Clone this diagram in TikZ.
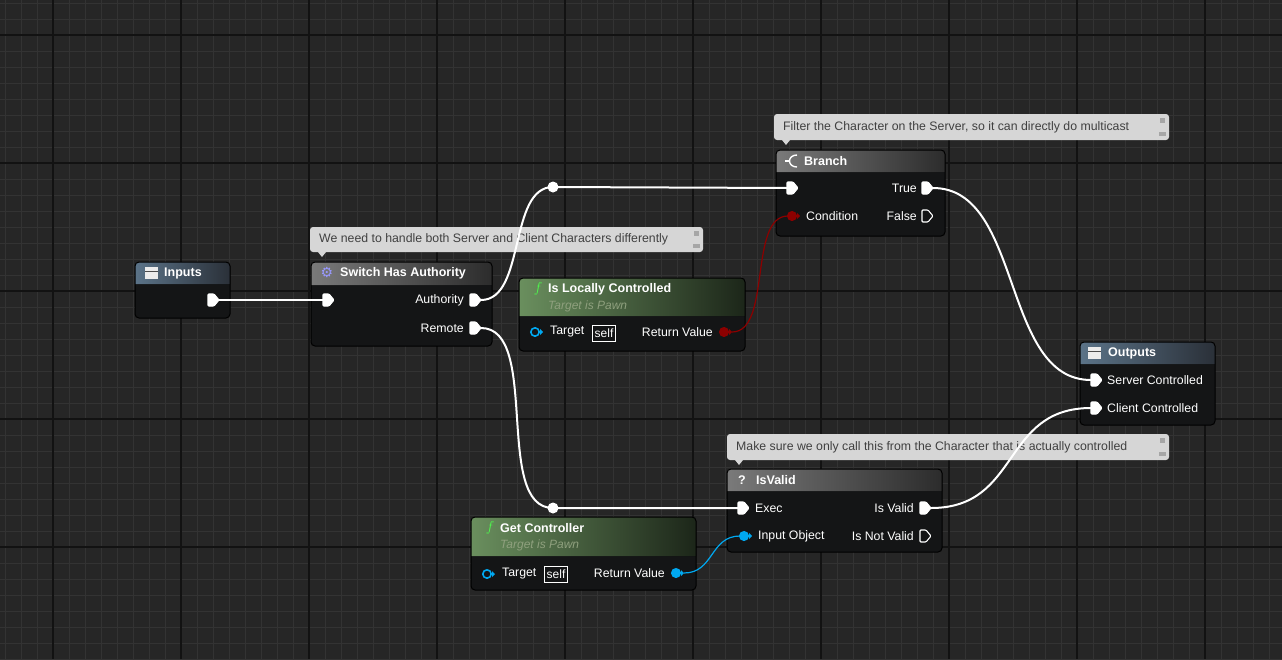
\documentclass[tikz,border=0pt]{standalone}
\usepackage{fontspec}
\setmainfont{Liberation Sans}
\newfontfamily\symfont{DejaVu Sans}
\usetikzlibrary{calc}

\definecolor{bggrid}{HTML}{262626}
\definecolor{minorln}{HTML}{333333}
\definecolor{majorln}{HTML}{121212}
\definecolor{bodycol}{HTML}{141516}
\definecolor{execred}{HTML}{8C0000}
\definecolor{objblue}{HTML}{00A8F0}
\definecolor{notecol}{HTML}{D6D6D6}
\definecolor{ioleft}{HTML}{5B7388}
\definecolor{ioright}{HTML}{2A3038}
\definecolor{flowleft}{HTML}{7A7A7A}
\definecolor{flowright}{HTML}{2C2C2C}
\definecolor{funcleft}{HTML}{6A8F5E}
\definecolor{funcright}{HTML}{1C2619}
\definecolor{subcol}{HTML}{8FA07E}

% pins: exec (filled / hollow) and data
\newcommand\execpin[4][white]{%
  \coordinate (#2) at (#3,#4);
  \draw[white,fill=#1,line width=1.1pt,rounded corners=1pt]
    (#3-5,#4-6) -- (#3+1,#4-6) -- (#3+6,#4) -- (#3+1,#4+6) -- (#3-5,#4+6) -- cycle;}
\newcommand\datapin[5]{%
  \coordinate (#2) at (#3,#4);
  \draw[#1,fill=#5,line width=1.6pt] (#3,#4) circle (4.2);
  \fill[#1] (#3+5,#4-3) -- (#3+8,#4) -- (#3+5,#4+3) -- cycle;}
% node body with header
\newcommand\bpbox[8]{%
  \fill[bodycol,rounded corners=4pt] (#2,#3) rectangle (#4,#5);
  \fill[left color=#7,right color=#8,rounded corners=4pt]
    (#2,#6) [rounded corners=4pt]-- (#2,#3) -- (#4,#3) [sharp corners]-- (#4,#6) -- cycle;
  \draw[black,rounded corners=4pt,line width=1pt] (#2,#3) rectangle (#4,#5);
  \coordinate (#1) at (#2,#3);}
% comment bubble
\newcommand\bpnote[6]{%
  \fill[notecol,rounded corners=3pt] (#2,#3) rectangle (#4,#5);
  \fill[notecol] (#2+8,#5) -- (#2+12,#5+5) -- (#2+16,#5) -- cycle;
  \fill[gray!70] (#4-9,#3+4) rectangle (#4-4,#3+9);
  \fill[gray!70] (#4-10,#5-8) rectangle (#4-3,#5-4);
  \node[anchor=west,text=black!75,font=\fontsize{12.3}{13}\selectfont,inner sep=0pt]
    (#1) at (#2+9,{(#3+#5)/2}) {#6};}

\tikzset{
  title/.style={anchor=west,text=white,font=\bfseries\fontsize{12.5}{14}\selectfont,inner sep=0pt},
  sub/.style={anchor=west,text=subcol,font=\itshape\fontsize{12}{13}\selectfont,inner sep=0pt},
  pinlabel/.style={text=white,font=\fontsize{12.3}{13}\selectfont,inner sep=0pt},
  selfbox/.style={draw=white!80,text=white,font=\fontsize{12}{13}\selectfont,inner sep=2pt,minimum height=16pt},
  wire/.style={white,line width=2pt},
}

\begin{document}
\begin{tikzpicture}[x=1pt,y=-1pt]
\useasboundingbox (0,0) rectangle (1282,659);
\fill[bggrid] (0,0) rectangle (1282,659);
\foreach \x in {5,21,...,1282} \draw[minorln,line width=1pt] (\x,0) -- (\x,659);
\foreach \y in {3,19,...,659} \draw[minorln,line width=1pt] (0,\y) -- (1282,\y);
\foreach \x in {53,181,...,1282} \draw[majorln,line width=1.2pt] (\x,0) -- (\x,659);
\foreach \y in {35,163,...,659} \draw[majorln,line width=1.2pt] (0,\y) -- (1282,\y);

% comments
\bpnote{noteA}{310}{227}{703}{252}{We need to handle both Server and Client Characters differently}
\bpnote{noteB}{774}{114}{1169}{140}{Filter the Character on the Server, so it can directly do multicast}
\bpnote{noteC}{727}{434}{1169}{460}{Make sure we only call this from the Character that is actually controlled}

% nodes
\bpbox{inputs}{135}{262}{230}{318}{284}{ioleft}{ioright}
\fill[white!85!gray] (145,267) rectangle (158,279);
\draw[gray!60!black] (145,271) -- (158,271);
\node[title] (inputsT) at (164,273) {Inputs};
\execpin{inExec}{213}{300}

\bpbox{switch}{311}{262}{492}{346}{285}{flowleft}{flowright}
\node[text=blue!40!white,font=\symfont\fontsize{14}{14}\selectfont,inner sep=0pt] at (327,273) {⚙};
\node[title] (switchT) at (340,273) {Switch Has Authority};
\execpin{swIn}{328}{300}
\execpin{swAuth}{475}{300}
\execpin{swRemote}{475}{328}
\node[pinlabel,anchor=east] at (464,300) {Authority};
\node[pinlabel,anchor=east] at (464,328) {Remote};

\bpbox{locally}{519}{278}{745}{351}{316}{funcleft}{funcright}
\node[text=green!70!white,font=\itshape\fontsize{15}{15}\selectfont,inner sep=0pt] at (538,289) {$f$};
\node[title] (locallyT) at (548,289) {Is Locally Controlled};
\node[sub] at (548,306) {Target is Pawn};
\datapin{objblue}{lcTarget}{535}{332}{bodycol}
\node[pinlabel,anchor=west] at (550,332) {Target};
\node[selfbox] at (604,333) {self};
\datapin{execred}{lcRet}{724}{332}{execred}
\node[pinlabel,anchor=east] at (713,332) {Return Value};

\bpbox{branch}{776}{150}{945}{236}{172}{flowleft}{flowright}
\draw[white,line width=1.4pt] (797,155) .. controls (787,155) and (787,167) .. (797,167);
\draw[white,line width=1.4pt] (790,161) -- (785,161);
\node[title] (branchT) at (804,161) {Branch};
\execpin{brIn}{792}{188}
\execpin{brTrue}{927}{188}
\execpin[bodycol]{brFalse}{927}{216}
\datapin{execred}{brCond}{792}{216}{execred}
\node[pinlabel,anchor=west] at (806,216) {Condition};
\node[pinlabel,anchor=east] at (917,188) {True};
\node[pinlabel,anchor=east] at (917,216) {False};

\bpbox{outputs}{1080}{342}{1215}{425}{364}{ioleft}{ioright}
\fill[white!85!gray] (1088,347) rectangle (1101,359);
\draw[gray!60!black] (1088,351) -- (1101,351);
\node[title] (outputsT) at (1108,353) {Outputs};
\execpin{outServer}{1096}{380}
\execpin{outClient}{1096}{408}
\node[pinlabel,anchor=west] at (1107,380) {Server Controlled};
\node[pinlabel,anchor=west] at (1107,408) {Client Controlled};

\bpbox{isvalid}{727}{469}{942}{552}{491}{flowleft}{flowright}
\node[text=white,font=\bfseries\fontsize{12.5}{14}\selectfont,inner sep=0pt] at (742,480) {?};
\node[title] (isvalidT) at (756,480) {IsValid};
\execpin{ivExec}{743}{508}
\execpin{ivValid}{925}{508}
\execpin[bodycol]{ivNot}{925}{536}
\datapin{objblue}{ivObj}{744}{536}{objblue}
\node[pinlabel,anchor=west] at (755,508) {Exec};
\node[pinlabel,anchor=west] at (758,536) {Input Object};
\node[pinlabel,anchor=east] at (914,508) {Is Valid};
\node[pinlabel,anchor=east] at (914,536) {Is Not Valid};

\bpbox{getctrl}{471}{517}{696}{590}{556}{funcleft}{funcright}
\node[text=green!70!white,font=\itshape\fontsize{15}{15}\selectfont,inner sep=0pt] at (490,528) {$f$};
\node[title] (getctrlT) at (500,528) {Get Controller};
\node[sub] at (500,545) {Target is Pawn};
\datapin{objblue}{gcTarget}{487}{574}{bodycol}
\node[pinlabel,anchor=west] at (502,574) {Target};
\node[selfbox] at (556,574) {self};
\datapin{objblue}{gcRet}{676}{573}{objblue}
\node[pinlabel,anchor=east] at (665,573) {Return Value};

% reroute knots
\coordinate (knotA) at (553,187);
\coordinate (knotB) at (553,508);

% wires
\draw[wire] ($(inExec)+(6,0)$) -- ($(swIn)-(5,0)$);
\draw[wire] ($(swAuth)+(6,0)$) .. controls +(45,0) and +(-45,0) .. (knotA) -- ($(brIn)-(5,0)$);
\draw[wire] ($(swRemote)+(6,0)$) .. controls +(60,0) and +(-60,0) .. (knotB) -- ($(ivExec)-(5,0)$);
\draw[wire] ($(brTrue)+(6,0)$) .. controls +(90,0) and +(-90,0) .. ($(outServer)-(5,0)$);
\draw[wire] ($(ivValid)+(6,0)$) .. controls +(90,0) and +(-90,0) .. ($(outClient)-(5,0)$);
\draw[execred,line width=1.2pt] ($(lcRet)+(8,0)$) .. controls +(40,0) and +(-40,0) .. ($(brCond)-(4,0)$);
\draw[objblue,line width=1.2pt] ($(gcRet)+(8,0)$) .. controls +(30,0) and +(-30,0) .. ($(ivObj)-(4,0)$);
\fill[white] (knotA) circle (5.5) (knotB) circle (5.5);
\end{tikzpicture}
\end{document}
